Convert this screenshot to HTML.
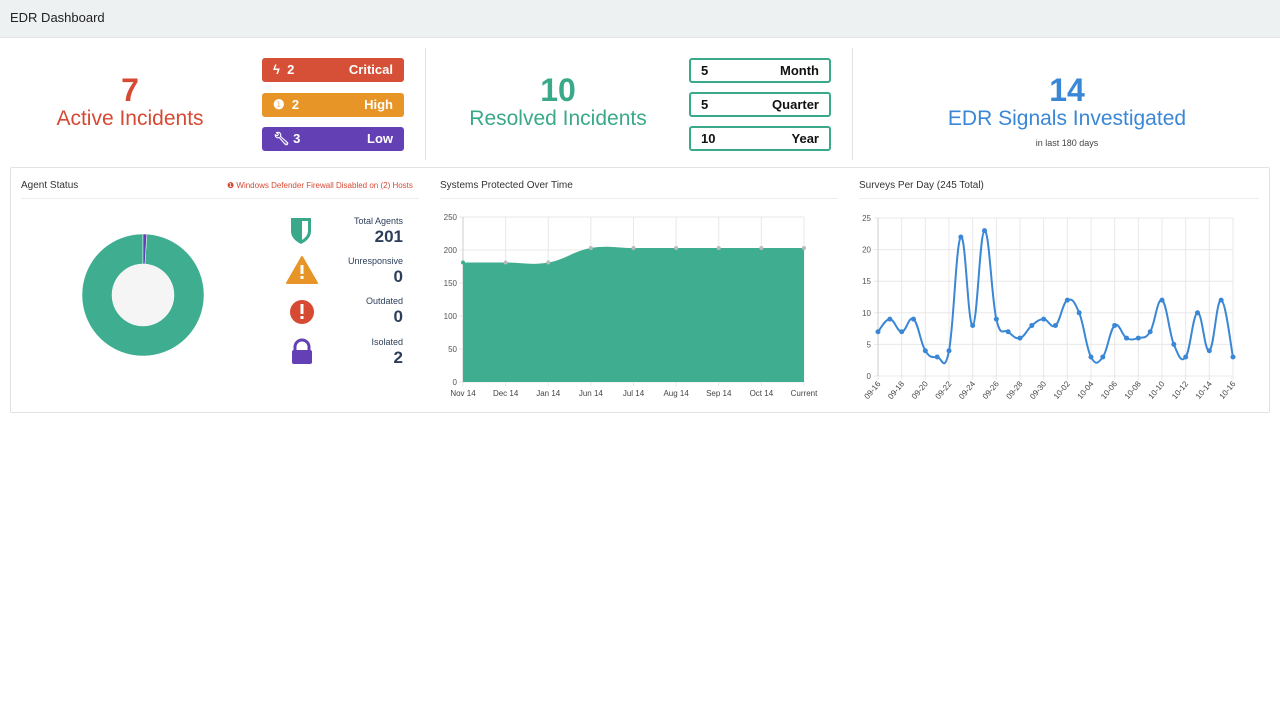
<!DOCTYPE html>
<html><head><meta charset="utf-8"><style>
*{box-sizing:border-box;margin:0;padding:0}
body{width:1280px;height:720px;background:#fff;font-family:"Liberation Sans",sans-serif;position:relative;overflow:hidden}
.abs{position:absolute}
.big{font-weight:bold;font-size:32px;text-align:center;line-height:32px}
.lbl{font-size:21px;text-align:center;line-height:26px}
.badge{position:absolute;left:262px;width:142px;height:24px;border-radius:3px;color:#fff;font-weight:bold;font-size:13px;line-height:24px;padding:0 11px}
.badge span.r{float:right}
.obox{position:absolute;left:689px;width:142px;height:25px;border:2px solid #3aa98a;border-radius:3px;color:#111;font-weight:bold;font-size:13px;line-height:21px;padding:0 10px}
.obox span.r{float:right}
.ptitle{font-size:10px;color:#333;position:absolute}
.stat{position:absolute;right:0;text-align:right;color:#2c3e5a}
</style></head><body>
<div class="abs" style="left:0;top:0;width:1280px;height:38px;background:#eef1f2;border-bottom:1px solid #e2e6e8"></div>
<div class="abs" style="left:10px;top:10px;font-size:13px;color:#222">EDR Dashboard</div>

<div class="abs big" style="left:30px;width:200px;top:74px;color:#d64a34">7</div>
<div class="abs lbl" style="left:30px;width:200px;top:106px;color:#d64a34">Active Incidents</div>
<div class="badge" style="top:58px;background:#d64f37">ϟ&nbsp; 2<span class="r">Critical</span></div>
<div class="badge" style="top:93px;background:#e69526">❶&nbsp; 2<span class="r">High</span></div>
<div class="badge" style="top:127px;background:#6440b5">🔧︎&nbsp;3<span class="r">Low</span></div>
<div class="abs" style="left:425px;top:48px;width:1px;height:112px;background:#e2e2e2"></div>

<div class="abs big" style="left:458px;width:200px;top:74px;color:#3aa98a">10</div>
<div class="abs lbl" style="left:438px;width:240px;top:106px;color:#3aa98a">Resolved Incidents</div>
<div class="obox" style="top:58px">5<span class="r">Month</span></div>
<div class="obox" style="top:92px">5<span class="r">Quarter</span></div>
<div class="obox" style="top:126px">10<span class="r">Year</span></div>
<div class="abs" style="left:852px;top:48px;width:1px;height:112px;background:#e2e2e2"></div>

<div class="abs big" style="left:967px;width:200px;top:74px;color:#3a87d6">14</div>
<div class="abs lbl" style="left:917px;width:300px;top:106px;color:#3a87d6">EDR Signals Investigated</div>
<div class="abs" style="left:967px;width:200px;top:138px;text-align:center;font-size:9px;color:#444">in last 180 days</div>

<div class="abs" style="left:10px;top:167px;width:1260px;height:246px;border:1px solid #e2e2e2;border-radius:2px"></div>
<div class="ptitle" style="left:21px;top:180px">Agent Status</div>
<div class="abs" style="left:227px;top:181px;font-size:8px;color:#d64a34">❶ Windows Defender Firewall Disabled on (2) Hosts</div>
<div class="abs" style="left:21px;top:198px;width:398px;height:1px;background:#eee"></div>
<div class="ptitle" style="left:440px;top:180px">Systems Protected Over Time</div>
<div class="abs" style="left:440px;top:198px;width:398px;height:1px;background:#eee"></div>
<div class="ptitle" style="left:859px;top:180px">Surveys Per Day (245 Total)</div>
<div class="abs" style="left:859px;top:198px;width:400px;height:1px;background:#eee"></div>

<svg class="abs" style="left:0;top:0" width="1280" height="720" id="svg">
 <g id="donut"></g>
 <g><path d="M291,218 h20 v13 q0,8 -10,13 q-10,-5 -10,-13z" fill="#3aa98a"/><path d="M302,221 h6 v10 q0,5 -6,9z" fill="#fff"/></g>
 <g><path d="M302,257 l15,26 h-30z" fill="#e69526" stroke="#e69526" stroke-linejoin="round" stroke-width="2"/><rect x="300.5" y="265" width="3" height="9" fill="#fff"/><rect x="300.5" y="276" width="3" height="3" fill="#fff"/></g>
 <g><circle cx="302" cy="312" r="12" fill="#d64a34"/><rect x="300.5" y="304" width="3" height="10" fill="#fff"/><rect x="300.5" y="316" width="3" height="3" fill="#fff"/></g>
 <g><path d="M295,352 v-5 a7,7 0 0 1 14,0 v5" fill="none" stroke="#6440b5" stroke-width="3"/><rect x="292" y="350" width="20" height="14" rx="2" fill="#6440b5"/></g>
 <g id="sys"></g>
 <g id="sur"></g>
</svg>
<div class="abs" style="left:330px;top:215px;width:73px;height:160px">
 <div class="stat" style="top:1px;font-size:9px">Total Agents</div><div class="stat" style="top:12px;font-size:17px;font-weight:bold">201</div>
 <div class="stat" style="top:41px;font-size:9px">Unresponsive</div><div class="stat" style="top:52px;font-size:17px;font-weight:bold">0</div>
 <div class="stat" style="top:81px;font-size:9px">Outdated</div><div class="stat" style="top:92px;font-size:17px;font-weight:bold">0</div>
 <div class="stat" style="top:122px;font-size:9px">Isolated</div><div class="stat" style="top:133px;font-size:17px;font-weight:bold">2</div>
</div>
<script>
const agentLabels=["Healthy","Isolated"];
const agentValues=[199,2];
const sysCategories=["Nov 14","Dec 14","Jan 14","Jun 14","Jul 14","Aug 14","Sep 14","Oct 14","Current"];
const sysValues=[181,181,181,203,203,203,203,203,203];
const sysTicks=[0,50,100,150,200,250];
const surDates=["09-16","09-17","09-18","09-19","09-20","09-21","09-22","09-23","09-24","09-25","09-26","09-27","09-28","09-29","09-30","10-01","10-02","10-03","10-04","10-05","10-06","10-07","10-08","10-09","10-10","10-11","10-12","10-13","10-14","10-15","10-16"];
const surValues=[7,9,7,9,4,3,4,22,8,23,9,7,6,8,9,8,12,10,3,3,8,6,6,7,12,5,3,10,4,12,3];
const surTicks=[0,5,10,15,20,25];
const NS="http://www.w3.org/2000/svg";
function mk(p,t,a){const e=document.createElementNS(NS,t);for(const k in a)e.setAttribute(k,a[k]);p.appendChild(e);return e;}
function spline(pts,t){let d="M"+pts[0][0]+","+pts[0][1];for(let i=0;i<pts.length-1;i++){const p0=pts[i-1]||pts[i],p1=pts[i],p2=pts[i+1],p3=pts[i+2]||p2;d+=` C${p1[0]+(p2[0]-p0[0])*t},${p1[1]+(p2[1]-p0[1])*t} ${p2[0]-(p3[0]-p1[0])*t},${p2[1]-(p3[1]-p1[1])*t} ${p2[0]},${p2[1]}`;}return d;}
// donut
(function(){const g=document.getElementById('donut');const cx=143,cy=295,R=61,r=31;const tot=agentValues.reduce((a,b)=>a+b,0);const cols=["#3fae90","#6440b5"];
let a0=-Math.PI/2+2*Math.PI*agentValues[1]/tot;
agentValues.forEach((v,i)=>{const a1=a0+2*Math.PI*v/tot;const lg=(a1-a0)>Math.PI?1:0;
const d=`M${cx+R*Math.cos(a0)},${cy+R*Math.sin(a0)} A${R},${R} 0 ${lg} 1 ${cx+R*Math.cos(a1)},${cy+R*Math.sin(a1)} L${cx+r*Math.cos(a1)},${cy+r*Math.sin(a1)} A${r},${r} 0 ${lg} 0 ${cx+r*Math.cos(a0)},${cy+r*Math.sin(a0)}Z`;
const p=mk(g,'path',{d:d,fill:cols[i],stroke:'#fff','stroke-width':0.5});

a0=a1;});
const c=mk(g,'circle',{cx:cx,cy:cy,r:r,fill:'#f5f5f5'});

})();
// systems
(function(){const g=document.getElementById('sys');const x0=463,x1=804,y0=382,y1=217;
const X=i=>x0+(x1-x0)*i/(sysCategories.length-1),Y=v=>y0-(y0-y1)*v/250;
sysTicks.forEach(t=>{mk(g,'line',{x1:x0-4,x2:x1,y1:Y(t),y2:Y(t),stroke:'#e8e8e8'});const tx=mk(g,'text',{x:x0-6,y:Y(t)+3,'text-anchor':'end','font-size':8,fill:'#555'});tx.textContent=t;

});
sysCategories.forEach((c,i)=>{mk(g,'line',{x1:X(i),x2:X(i),y1:y1,y2:y0+4,stroke:'#e8e8e8'});const tx=mk(g,'text',{x:X(i),y:y0+14,'text-anchor':'middle','font-size':8,fill:'#444'});tx.textContent=c;

});
mk(g,'line',{x1:x0,x2:x0,y1:y1,y2:y0,stroke:'#ccc'});
const pts=sysValues.map((v,i)=>[X(i),Y(v)]);
const a=mk(g,'path',{d:spline(pts,0.2)+` L${x1},${y0} L${x0},${y0}Z`,fill:'#3fae90'});


pts.forEach((p,i)=>{const c=mk(g,'circle',{cx:p[0],cy:p[1],r:2,fill:i?'#bbb':'#3fae90'});

});})();
// surveys
(function(){const g=document.getElementById('sur');const x0=878,x1=1233,y0=376,y1=218;
const X=i=>x0+(x1-x0)*i/(surDates.length-1),Y=v=>y0-(y0-y1)*v/25;
surTicks.forEach(t=>{mk(g,'line',{x1:x0-4,x2:x1,y1:Y(t),y2:Y(t),stroke:'#e8e8e8'});const tx=mk(g,'text',{x:x0-7,y:Y(t)+3,'text-anchor':'end','font-size':8,fill:'#555'});tx.textContent=t;

});
surDates.forEach((d,i)=>{if(i%2)return;mk(g,'line',{x1:X(i),x2:X(i),y1:y1,y2:y0+4,stroke:'#e8e8e8'});const tx=mk(g,'text',{x:X(i)+3,y:y0+8,'text-anchor':'end','font-size':8,fill:'#444',transform:`rotate(-50 ${X(i)+3} ${y0+8})`});tx.textContent=d;

});
mk(g,'line',{x1:x0,x2:x0,y1:y1,y2:y0,stroke:'#ccc'});
const pts=surValues.map((v,i)=>[X(i),Y(v)]);
const l=mk(g,'path',{d:spline(pts,0.2),fill:'none',stroke:'#3a87d6','stroke-width':2});


pts.forEach(p=>{const c=mk(g,'circle',{cx:p[0],cy:p[1],r:2.5,fill:'#3a87d6'});

});})();
</script>
</body></html>
